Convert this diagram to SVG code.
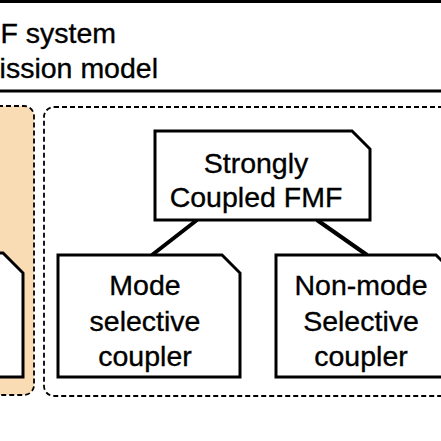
<svg xmlns="http://www.w3.org/2000/svg" width="441" height="441" viewBox="0 0 441 441">
<style>
.node{fill:#fff;stroke:#000;stroke-width:3;stroke-linejoin:miter}
.panel{stroke:#000;stroke-width:1.8;stroke-dasharray:5 3}
.t{font-family:"Liberation Sans",Arial,sans-serif;font-size:28.5px;fill:#000;stroke:#000;stroke-width:0.35;text-anchor:middle}
.conn{stroke:#000;stroke-width:4;fill:none}
</style>
<rect width="441" height="441" fill="#fff"/>
<g id="header">
<rect x="-10" y="1.5" width="461" height="89.5" fill="#fff" stroke="#000" stroke-width="3"/>
<text class="t" x="116" y="43" style="text-anchor:end">F system</text>
<text class="t" x="158" y="78" style="text-anchor:end">ission model</text>
</g>
<g id="panel-left">
<rect class="panel" x="-20" y="106" width="54" height="289" rx="10" fill="#f9dcb4"/>
</g>
<g id="panel-right">
<rect class="panel" x="44" y="107" width="420" height="289" rx="10" fill="none"/>
</g>
<g id="connectors">
<line class="conn" x1="197" y1="220" x2="152" y2="255"/>
<line class="conn" x1="317" y1="220" x2="367" y2="255"/>
</g>
<g id="node-left">
<polygon class="node" points="-10,253 3,253 23,273 23,377 -10,377"/>
</g>
<g id="node-strongly">
<polygon class="node" points="155,131 352,131 370,149 370,220 155,220"/>
<text class="t" x="256" y="173">Strongly</text>
<text class="t" x="256" y="207">Coupled FMF</text>
</g>
<g id="node-mode">
<polygon class="node" points="58,255 222,255 240,273 240,377 58,377"/>
<text class="t" x="145" y="295">Mode</text>
<text class="t" x="145" y="331">selective</text>
<text class="t" x="145" y="366">coupler</text>
</g>
<g id="node-nonmode">
<polygon class="node" points="276,255 436,255 454,273 454,377 276,377"/>
<text class="t" x="361" y="295">Non-mode</text>
<text class="t" x="361" y="331">Selective</text>
<text class="t" x="361" y="366">coupler</text>
</g>
</svg>
